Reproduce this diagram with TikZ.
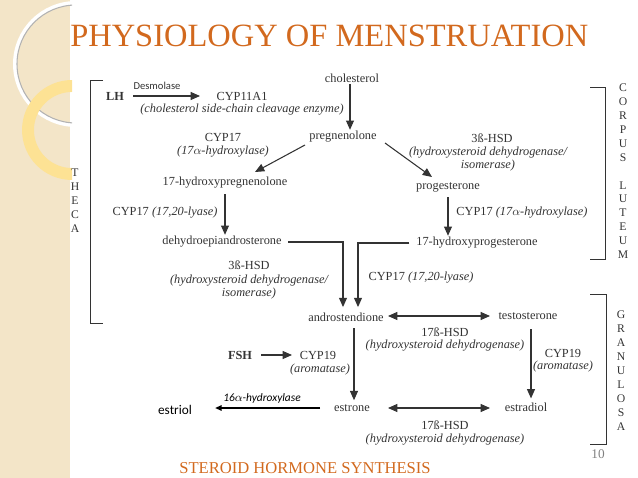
\documentclass[tikz,border=0pt]{standalone}
\usepackage{fontspec}
\setmainfont{Liberation Serif}
\newfontfamily\sansf{Carlito}
\usetikzlibrary{arrows.meta}
\definecolor{ttl}{HTML}{D2691E}
\definecolor{txt}{HTML}{333333}
\definecolor{strip}{HTML}{F3E5C8}
\tikzset{
  lbl/.style={inner sep=1pt, text=txt, font=\fontsize{9.3pt}{10.5pt}\selectfont, align=center},
  enz/.style={lbl, font=\fontsize{9.3pt}{10.5pt}\selectfont\itshape},
  arr/.style={draw=txt, line width=0.8pt, -{Triangle[length=7pt,width=6pt]}},
  darr/.style={draw=txt, line width=0.8pt, {Triangle[length=7pt,width=6pt]}-{Triangle[length=7pt,width=6pt]}},
  brk/.style={draw=txt, line width=0.7pt},
  let/.style={inner sep=0pt, text=txt, font=\fontsize{8.8pt}{9pt}\selectfont}
}
\begin{document}
\begin{tikzpicture}[x=0.0265cm, y=-0.0265cm]
\useasboundingbox (0,0) rectangle (638,478);
% left decorative strip
\fill[strip] (0,0) rectangle (70,478);
\begin{scope}
\clip (0,0) rectangle (72,478);
\draw[white, line width=3pt] (76,64) circle (61);
\draw[gray!60, line width=0.8pt] (76,64) circle (59);
\draw[yellow!50!orange!40, line width=9pt] (72,130) circle (44);
\end{scope}
% title
\node[text=ttl, font=\fontsize{24.5pt}{26pt}\selectfont, anchor=west, inner sep=0pt] (title) at (70,36) {PHYSIOLOGY OF MENSTRUATION};
% top part
\node[lbl, font=\sansf\fontsize{8pt}{9pt}\selectfont] (desm) at (157,86) {Desmolase};
\node[lbl, font=\fontsize{9.3pt}{10.5pt}\selectfont\bfseries] (lh) at (115,96) {LH};
\node[lbl] (cyp11) at (242,96) {CYP11A1};
\node[enz] (scc) at (242,110) {(cholesterol side-chain cleavage enzyme)};
\node[lbl] (chol) at (352,78) {cholesterol};
\node[lbl] (preg) at (343,137) {pregnenolone};
\node[lbl] (cyp17a) at (223,137) {CYP17};
\node[enz] (hyd17a) at (223,152) {(17$\alpha$-hydroxylase)};
\node[lbl] (hsd3a) at (492,138) {3ß-HSD};
\node[enz] (hsd3ad) at (488,159) {(hydroxysteroid dehydrogenase/\\isomerase)};
\node[lbl] (ohpreg) at (225,183) {17-hydroxypregnenolone};
\node[lbl] (prog) at (448,187) {progesterone};
\node[lbl] (lyasel) at (165,213) {CYP17 \textit{(17,20-lyase)}};
\node[lbl] (hydr) at (522,213) {CYP17 \textit{(17$\alpha$-hydroxylase)}};
\node[lbl] (dhea) at (222,242) {dehydroepiandrosterone};
\node[lbl] (ohprog) at (477,243) {17-hydroxyprogesterone};
\node[lbl] (hsd3b) at (249,265) {3ß-HSD};
\node[enz] (hsd3bd) at (249,287) {(hydroxysteroid dehydrogenase/\\isomerase)};
\node[lbl] (lyaser) at (421,278) {CYP17 \textit{(17,20-lyase)}};
% bottom part
\node[lbl] (andro) at (346,317) {androstendione};
\node[lbl] (testo) at (528,316) {testosterone};
\node[lbl] (hsd17a) at (445,332) {17ß-HSD};
\node[enz] (hsd17ad) at (445,346) {(hydroxysteroid dehydrogenase)};
\node[lbl, font=\fontsize{9.3pt}{10.5pt}\selectfont\bfseries] (fsh) at (240,355) {FSH};
\node[lbl] (cyp19a) at (318,355) {CYP19};
\node[enz] (aroma) at (320,370) {(aromatase)};
\node[lbl] (cyp19b) at (563,353) {CYP19};
\node[enz] (aromb) at (563,367) {(aromatase)};
\node[lbl] (estrone) at (352,408) {estrone};
\node[lbl] (estradiol) at (526,407) {estradiol};
\node[lbl] (hsd17b) at (445,425) {17ß-HSD};
\node[enz] (hsd17bd) at (445,440) {(hydroxysteroid dehydrogenase)};
\node[lbl, text=black, font=\sansf\itshape\fontsize{8.6pt}{9pt}\selectfont] (hyd16) at (262,398) {16$\alpha$-hydroxylase};
\node[lbl, text=black, font=\sansf\fontsize{10pt}{11pt}\selectfont] (estriol) at (175,410) {estriol};
% free ends of connectors
\coordinate (lha) at (133,96);  \coordinate (lhb) at (200,96);
\coordinate (pra) at (305,145); \coordinate (prb) at (255,172);
\coordinate (pga) at (385,143); \coordinate (pgb) at (432,177);
\coordinate (jl) at (343,0);    \coordinate (jr) at (358,0);
\coordinate (ata) at (388,316); \coordinate (atb) at (490,316);
\coordinate (eea) at (388,408); \coordinate (eeb) at (490,408);
\coordinate (esa) at (320,408); \coordinate (esb) at (215,408);
\coordinate (fsa) at (261,355); \coordinate (fsb) at (292,355);
% connectors
\draw[arr] (lha) -- (lhb);
\draw[arr] (chol.south -| 350,0) -- (preg.north -| 350,0);
\draw[arr] (pra) -- (prb);
\draw[arr] (pga) -- (pgb);
\draw[arr] ([yshift=-3pt]ohpreg.south) -- (dhea.north -| ohpreg);
\draw[arr] ([yshift=-3pt]prog.south) -- (prog |- ohprog.north);
\draw[arr] ([xshift=4pt]dhea.east) -| ([yshift=3pt]jl |- andro.north);
\draw[arr] ([xshift=-4pt]ohprog.west) -| ([yshift=3pt]jr |- andro.north);
\draw[darr] (ata) -- (atb);
\draw[arr] (fsa) -- (fsb);
\draw[arr] ([yshift=-4pt]andro.south -| 354,0) -- ([yshift=2pt]estrone.north -| 354,0);
\draw[arr] ([yshift=-6pt]testo.south -| 531,0) -- ([yshift=2pt]estradiol.north -| 531,0);
\draw[darr] (eea) -- (eeb);
\draw[draw=black, line width=1.3pt, -{Triangle[length=5pt,width=4pt]}] (esa) -- (esb);
% brackets
\draw[brk] (103,80) -- (90,80) -- (90,323) -- (103,323);
\draw[brk] (590,87) -- (605,87) -- (605,259) -- (590,259);
\draw[brk] (590,294) -- (606,294) -- (606,444) -- (590,444);
\foreach \c [count=\i] in {T,H,E,C,A}
  \node[let] (th\i) at (75,159+\i*14) {\c};
\foreach \c [count=\i] in {C,O,R,P,U,S,{},L,U,T,E,U,M}
  \node[let] (cl\i) at (623,74+\i*13.9) {\c};
\foreach \c [count=\i] in {G,R,A,N,U,L,O,S,A}
  \node[let] (gr\i) at (621,301+\i*14) {\c};
\node[text=gray, font=\fontsize{10pt}{11pt}\selectfont] (pg) at (598,454) {10};
\node[text=ttl, font=\fontsize{12.5pt}{13pt}\selectfont] (sub) at (305,468) {STEROID HORMONE SYNTHESIS};
\end{tikzpicture}
\end{document}
